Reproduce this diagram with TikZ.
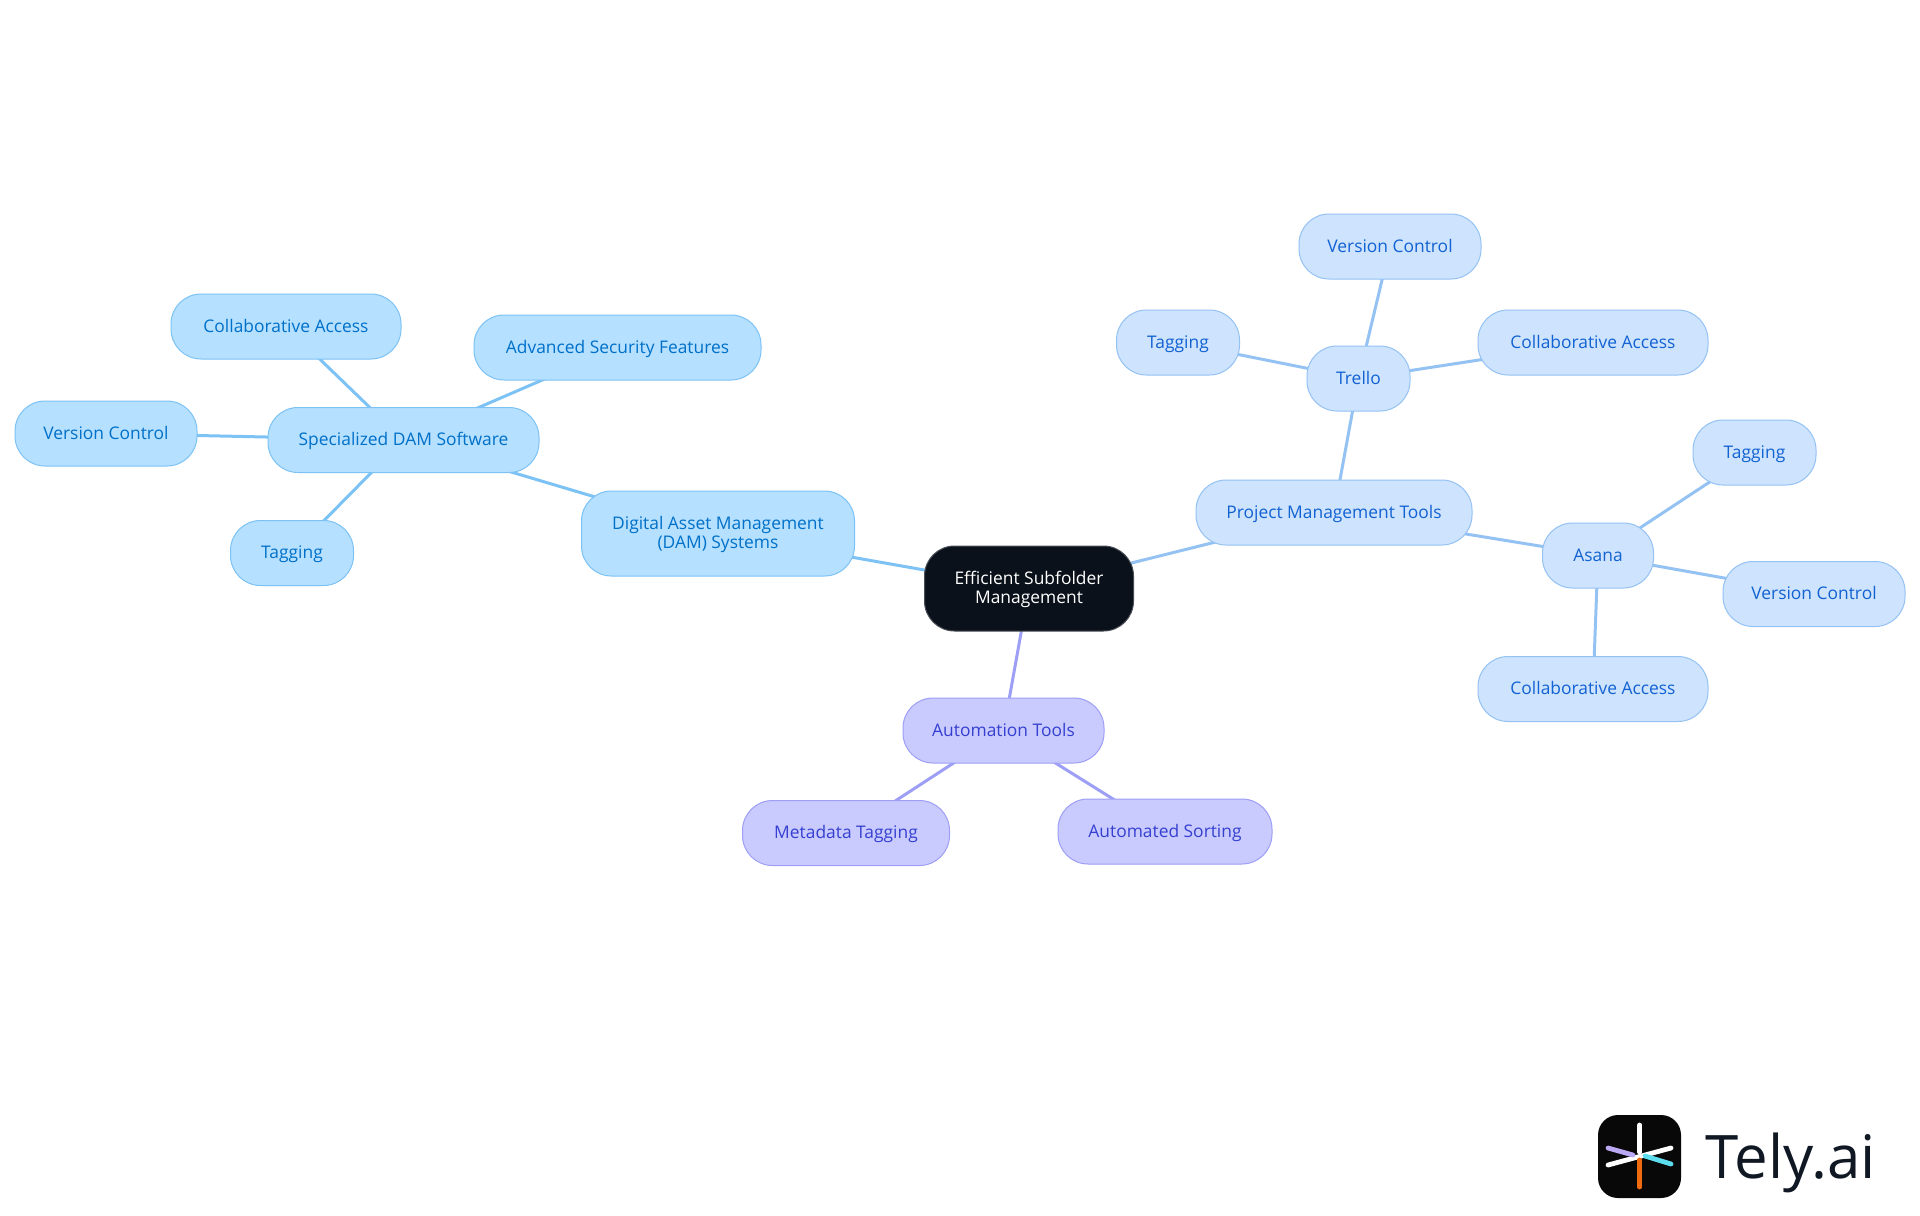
\documentclass[tikz,border=0pt]{standalone}
\usepackage{fontspec}
\setmainfont{Open Sans}
\usetikzlibrary{backgrounds}
\definecolor{rootfill}{HTML}{0B111A}
\definecolor{rootedge}{HTML}{4A4F57}
\definecolor{damfill}{HTML}{B5E0FF}
\definecolor{damedge}{HTML}{7CC2F4}
\definecolor{damtext}{HTML}{0070C8}
\definecolor{pmfill}{HTML}{CEE3FD}
\definecolor{pmedge}{HTML}{94C2F3}
\definecolor{pmtext}{HTML}{1162D2}
\definecolor{autofill}{HTML}{C9CBFE}
\definecolor{autoedge}{HTML}{9D9EF5}
\definecolor{autotext}{HTML}{3540D0}
\definecolor{logotext}{HTML}{101824}
\definecolor{logopurple}{HTML}{BBA8F2}
\definecolor{logocyan}{HTML}{5CDCEC}
\definecolor{logoorange}{HTML}{F06A10}
\definecolor{logoback}{HTML}{080808}
\tikzset{
  x=0.5pt,y=-0.5pt,
  mm/.style={draw,line width=0.5pt,rounded corners=15pt,inner sep=0pt,align=center,
    text height=7.5pt,text depth=2pt,
    font=\fontsize{8.7pt}{9.6pt}\selectfont},
  twolines/.style={text height=,text depth=},
  boxdim/.style 2 args={minimum width=#1*0.5pt,minimum height=#2*0.5pt},
  rootbox/.style={mm,fill=rootfill,draw=rootedge,text=white},
  dambox/.style={mm,fill=damfill,draw=damedge,text=damtext},
  pmbox/.style={mm,fill=pmfill,draw=pmedge,text=pmtext},
  autobox/.style={mm,fill=autofill,draw=autoedge,text=autotext},
  damlink/.style={draw=damedge,line width=1.5pt},
  pmlink/.style={draw=pmedge,line width=1.5pt},
  autolink/.style={draw=autoedge,line width=1.5pt},
  spoke/.style={line width=2.4pt,line cap=round},
}
\begin{document}
\begin{tikzpicture}
\useasboundingbox (0,0) rectangle (1920,1215);
% Nodes
\node[rootbox,twolines,boxdim={209}{85}] (root) at (1029,588.5) {\rule{0pt}{7.2pt}Efficient Subfolder\\Management};
\node[dambox,twolines,boxdim={273}{85}] (dam) at (718,533.5) {\rule{0pt}{7.2pt}Digital Asset Management\\(DAM) Systems};
\node[dambox,boxdim={271}{65}] (spec) at (403.5,440) {Specialized DAM Software};
\node[dambox,boxdim={230}{65}] (dc) at (286,326.5) {Collaborative Access};
\node[dambox,boxdim={287}{65}] (da) at (617.5,347.5) {Advanced Security Features};
\node[dambox,boxdim={182}{65}] (dv) at (106,433.5) {Version Control};
\node[dambox,boxdim={123}{65}] (dt) at (292,553) {Tagging};
\node[pmbox,boxdim={276}{65}] (pm) at (1334,512.5) {Project Management Tools};
\node[pmbox,boxdim={103}{65}] (trello) at (1358.5,378.5) {Trello};
\node[pmbox,boxdim={182}{65}] (tv) at (1390,246.5) {Version Control};
\node[pmbox,boxdim={123}{65}] (tt) at (1178,342.5) {Tagging};
\node[pmbox,boxdim={230}{65}] (tc) at (1593,342.5) {Collaborative Access};
\node[pmbox,boxdim={111}{65}] (asana) at (1598,555.5) {Asana};
\node[pmbox,boxdim={123}{65}] (at) at (1754.5,452.5) {Tagging};
\node[pmbox,boxdim={182}{65}] (av) at (1814,594) {Version Control};
\node[pmbox,boxdim={230}{65}] (ac) at (1593,689) {Collaborative Access};
\node[autobox,boxdim={201}{65}] (auto) at (1003.5,730.5) {Automation Tools};
\node[autobox,boxdim={207}{65}] (meta) at (846,833) {Metadata Tagging};
\node[autobox,boxdim={214}{65}] (sort) at (1165,831.5) {Automated Sorting};
% Connectors
\begin{pgfonlayer}{background}
\draw[damlink] (root.center) -- (dam.center);
\draw[damlink] (dam.center) -- (spec.center);
\draw[damlink] (spec.center) -- (dc.center);
\draw[damlink] (spec.center) -- (da.center);
\draw[damlink] (spec.center) -- (dv.center);
\draw[damlink] (spec.center) -- (dt.center);
\draw[pmlink] (root.center) -- (pm.center);
\draw[pmlink] (pm.center) -- (trello.center);
\draw[pmlink] (trello.center) -- (tv.center);
\draw[pmlink] (trello.center) -- (tt.center);
\draw[pmlink] (trello.center) -- (tc.center);
\draw[pmlink] (pm.center) -- (asana.center);
\draw[pmlink] (asana.center) -- (at.center);
\draw[pmlink] (asana.center) -- (av.center);
\draw[pmlink] (asana.center) -- (ac.center);
\draw[autolink] (root.center) -- (auto.center);
\draw[autolink] (auto.center) -- (meta.center);
\draw[autolink] (auto.center) -- (sort.center);
\end{pgfonlayer}
% Logo
\fill[logoback,rounded corners=10pt] (1598,1115) rectangle (1681,1198);
\draw[spoke,white] (1639.7,1125) -- (1639.7,1152);
\draw[spoke,white] (1608,1165) -- (1671,1148);
\draw[spoke,logoorange] (1639.7,1160) -- (1639.7,1187);
\draw[spoke,logopurple] (1608,1148) -- (1633,1155);
\draw[spoke,logocyan] (1645,1156) -- (1671,1164);
\node[anchor=base west,inner sep=0pt,text=logotext,font=\fontsize{30pt}{30pt}\selectfont] (logo) at (1705,1178) {Tely.ai};
\end{tikzpicture}
\end{document}
